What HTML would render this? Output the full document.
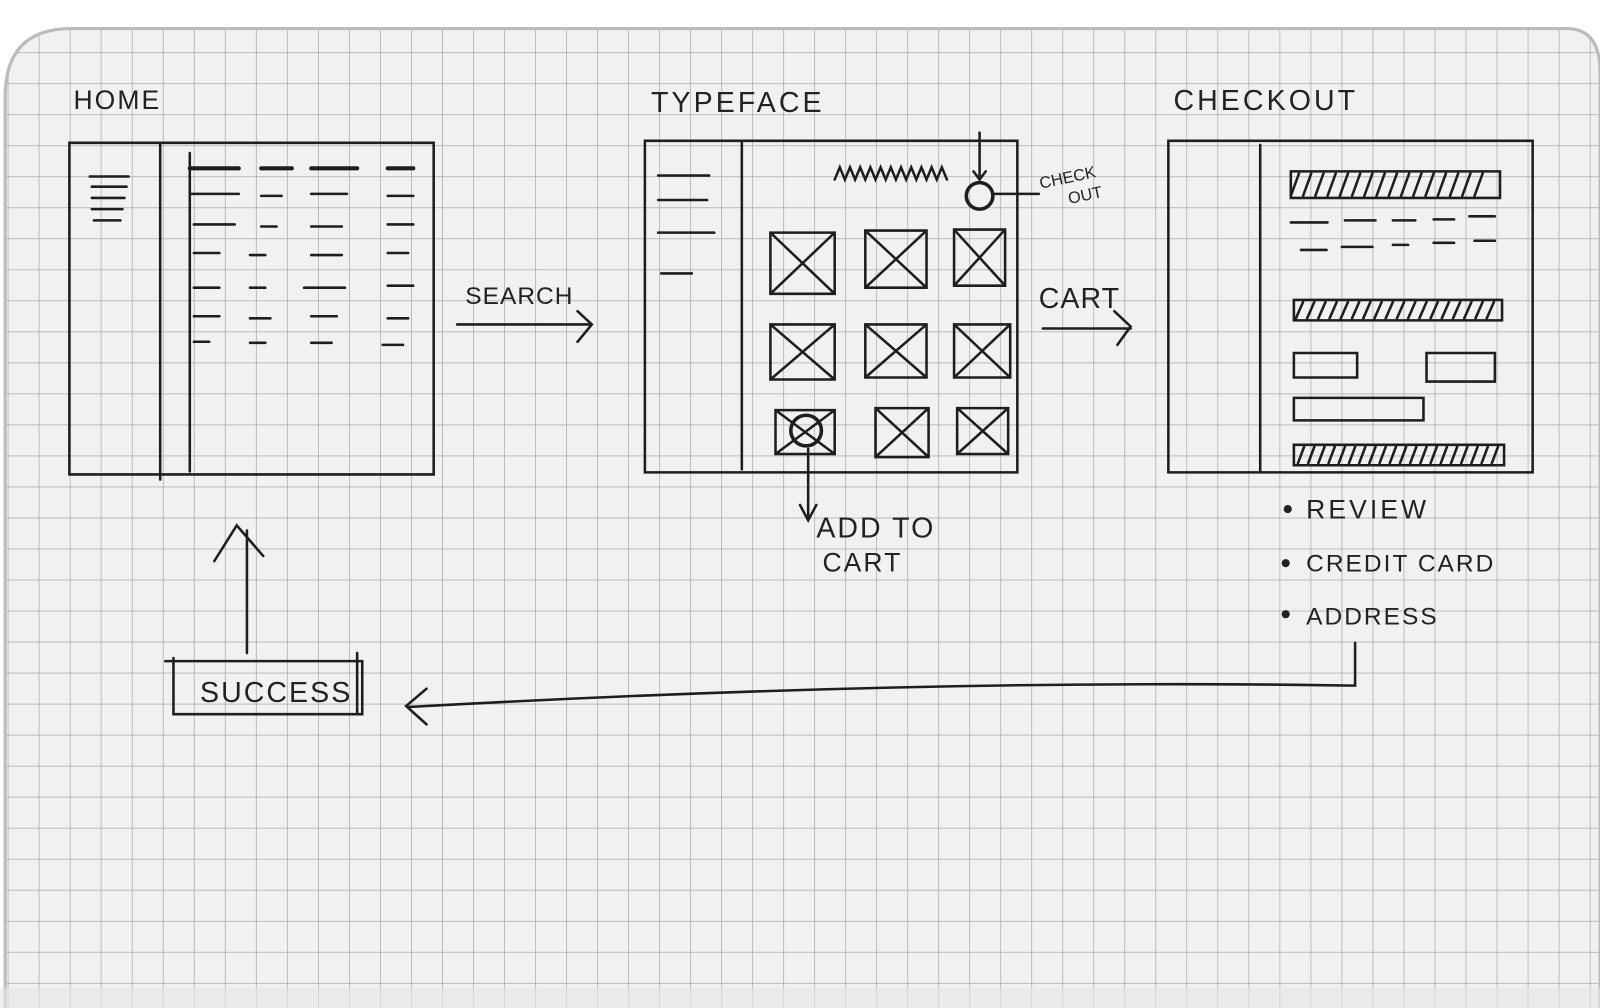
<!DOCTYPE html>
<html><head><meta charset="utf-8"><style>
html,body{margin:0;padding:0;background:#fff;}
svg{display:block;}
text{font-family:"Liberation Sans",sans-serif;fill:#222;}
</style></head><body>
<svg width="1600" height="1008" viewBox="0 0 1568 988" preserveAspectRatio="none" xmlns="http://www.w3.org/2000/svg">
<defs>
<pattern id="g" x="38" y="21" width="30.4" height="30.4" patternUnits="userSpaceOnUse">
<path d="M0 0V30.4M0 0H30.4" stroke="#9a9a9a" stroke-width="1.2" fill="none"/>
</pattern>
<clipPath id="pc"><path d="M5 990 V95 Q5 28 70 28 H1535 Q1568 28 1568 70 V990 Z"/></clipPath>
</defs>
<rect width="1600" height="1008" fill="#fff"/>
<g clip-path="url(#pc)">
<rect width="1600" height="1008" fill="#f1f1f1"/>
<rect width="1600" height="1008" fill="url(#g)"/>
</g>
<path d="M5 990 V95 Q5 28 70 28 H1535 Q1568 28 1568 70 V990" fill="none" stroke="#bbb" stroke-width="3"/>
<rect x="0" y="968" width="1600" height="40" fill="#e6e6e6" opacity="0.6"/>

<g stroke="#1e1e1e" stroke-width="2.5" fill="none" stroke-linecap="round">
<!-- HOME -->
<path d="M68 140 H425 V465 H68 Z"/>
<path d="M157 140 V470 M186 150 V462"/>
<path d="M88 173h38M90 183h34M90 194h32M90 205h30M92 216h26"/>
<path d="M186 165h48M256 165h30M305 165h45M380 165h25" stroke-width="4"/>
<path d="M186 190h48M256 192h20M305 190h35M380 192h25 M190 220h40M256 222h15M305 222h30M380 220h25 M190 248h25M245 250h15M305 250h30M380 248h20 M190 282h25M245 282h15M298 282h40M380 280h25 M190 310h25M245 312h20M305 310h25M380 312h20 M190 335h15M245 336h15M305 336h20M375 338h20"/>
<!-- SEARCH arrow -->
<path d="M448 318 H580 M566 305 L580 318 L566 335"/>
<!-- TYPEFACE -->
<path d="M632 138 H997 V463 H632 Z"/>
<path d="M727 138 V460"/>
<path d="M645 172h50M645 196h48M645 228h55M648 268h30"/>
<path d="M818 176 l5-12 l5 12 l5-12 l5 12 l5-12 l5 12 l5-12 l5 12 l5-12 l5 12 l5-12 l5 12 l5-12 l5 12 l5-12 l5 12 l5-12 l5 12 l5-12 l5 12 l5-12 l5 12"/>
<circle cx="960" cy="192" r="13" stroke-width="3.5"/>
<path d="M960 130 V175 M954 168 l6 8 l6-8 M975 190 H1018"/>
<path d="M755 228 H818 V288 H755 Z M755 228 L818 288 M818 228 L755 288"/>
<path d="M848 226 H908 V282 H848 Z M848 226 L908 282 M908 226 L848 282"/>
<path d="M935 225 H985 V280 H935 Z M935 225 L985 280 M985 225 L935 280"/>
<path d="M755 318 H818 V372 H755 Z M755 318 L818 372 M818 318 L755 372"/>
<path d="M848 318 H908 V370 H848 Z M848 318 L908 370 M908 318 L848 370"/>
<path d="M935 318 H990 V370 H935 Z M935 318 L990 370 M990 318 L935 370"/>
<path d="M760 402 H818 V445 H760 Z M760 402 L818 445 M818 402 L760 445"/>
<circle cx="790" cy="422" r="15" stroke-width="3.5"/>
<path d="M858 400 H910 V448 H858 Z M858 400 L910 448 M910 400 L858 448"/>
<path d="M938 400 H988 V445 H938 Z M938 400 L988 445 M988 400 L938 445"/>
<path d="M792 440 V510 M784 495 l8 15 l8-15"/>
<!-- CART arrow -->
<path d="M1022 322 H1108 M1092 305 L1108 320 L1095 338"/>
<!-- CHECKOUT -->
<path d="M1145 138 H1502 V463 H1145 Z"/>
<path d="M1235 142 V462"/>
<path d="M1265 168 H1470 V194 H1265 Z"/>
<path d="M1265 192 l8-22 m4 22 l8-22 m4 22 l8-22 m4 22 l8-22 m4 22 l8-22 m4 22 l8-22 m4 22 l8-22 m4 22 l8-22 m4 22 l8-22 m4 22 l8-22 m4 22 l8-22 m4 22 l8-22 m4 22 l8-22 m4 22 l8-22 m4 22 l8-22 m4 22 l8-22"/>
<path d="M1265 218h36M1318 216h30M1365 216h22M1405 215h20M1440 212h25 M1275 245h25M1315 242h30M1365 240h15M1405 238h20M1445 236h20"/>
<path d="M1268 294 H1472 V314 H1268 Z M1270 312 l7-16 m4 16 l7-16 m4 16 l7-16 m4 16 l7-16 m4 16 l7-16 m4 16 l7-16 m4 16 l7-16 m4 16 l7-16 m4 16 l7-16 m4 16 l7-16 m4 16 l7-16 m4 16 l7-16 m4 16 l7-16 m4 16 l7-16 m4 16 l7-16 m4 16 l7-16 m4 16 l7-16 m4 16 l7-16"/>
<path d="M1268 346 H1330 V370 H1268 Z M1398 346 H1465 V374 H1398 Z M1268 390 H1395 V412 H1268 Z"/>
<path d="M1268 436 H1474 V456 H1268 Z M1272 454 l6-16 m4 16 l6-16 m4 16 l6-16 m4 16 l6-16 m4 16 l6-16 m4 16 l6-16 m4 16 l6-16 m4 16 l6-16 m4 16 l6-16 m4 16 l6-16 m4 16 l6-16 m4 16 l6-16 m4 16 l6-16 m4 16 l6-16 m4 16 l6-16 m4 16 l6-16 m4 16 l6-16 m4 16 l6-16 m4 16 l6-16 m4 16 l6-16"/>
<!-- return arrow -->
<path d="M1328 630 V672 Q900 665 400 693 M418 675 L398 692 L418 710"/>
<!-- SUCCESS -->
<path d="M162 648 H355 V700 H170 V645 M350 640 V698"/>
<path d="M242 640 V520 M210 550 L232 515 L258 545"/>
</g>
<g fill="#222">
<circle cx="1262" cy="499" r="4"/><circle cx="1260" cy="552" r="4"/><circle cx="1260" cy="602" r="4"/>
</g>
<text x="72" y="107" font-size="26" letter-spacing="2">HOME</text>
<text x="638" y="110" font-size="28" letter-spacing="3" font-weight="300">TYPEFACE</text>
<text x="1150" y="108" font-size="28" letter-spacing="3" fill="#444">CHECKOUT</text>
<text x="456" y="298" font-size="24" letter-spacing="1">SEARCH</text>
<text x="1018" y="302" font-size="28" letter-spacing="1">CART</text>
<text x="1020" y="185" font-size="16" transform="rotate(-12 1020 185)">CHECK</text>
<text x="1048" y="200" font-size="16" transform="rotate(-12 1048 200)">OUT</text>
<text x="800" y="527" font-size="28" letter-spacing="2">ADD TO</text>
<text x="806" y="560" font-size="26" letter-spacing="2">CART</text>
<text x="1280" y="508" font-size="26" letter-spacing="3">REVIEW</text>
<text x="1280" y="560" font-size="24" letter-spacing="2">CREDIT CARD</text>
<text x="1280" y="612" font-size="24" letter-spacing="2">ADDRESS</text>
<text x="196" y="688" font-size="28" letter-spacing="2">SUCCESS</text>
</svg>
</body></html>
